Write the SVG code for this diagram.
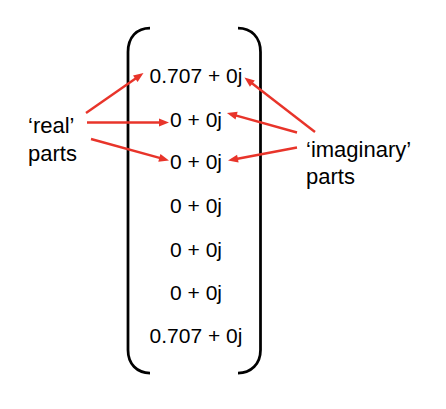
<svg xmlns="http://www.w3.org/2000/svg" width="446" height="409" viewBox="0 0 446 409">
<defs>
<style>
.t{font-family:"Liberation Sans",Arial,sans-serif;font-size:21px;fill:#000}
.l{font-size:22px}
.m{text-anchor:middle}
.br{fill:none;stroke:#000;stroke-width:2.75;stroke-linecap:butt}
.ar{fill:none;stroke:#E8342A;stroke-width:2.4}
</style>
<marker id="ah" markerUnits="userSpaceOnUse" markerWidth="10" markerHeight="8" refX="3" refY="4" orient="auto" overflow="visible">
<path d="M0,0 L10,4 L0,8 z" fill="#E8342A"/>
</marker>
</defs>
<rect width="446" height="409" fill="#fff"/>
<g id="matrix">
<path class="br" d="M150,28 C137,28 128,37 128,52 L128,350 C128,364 137,373 150,373"/>
<path class="br" d="M238,28 C251,28 260.5,37 260.5,52 L260.5,350 C260.5,364 251,373 238,373"/>
<text class="t m" x="196" y="83">0.707 + 0j</text>
<text class="t m" x="196" y="127">0 + 0j</text>
<text class="t m" x="196" y="169">0 + 0j</text>
<text class="t m" x="196" y="213">0 + 0j</text>
<text class="t m" x="196" y="257">0 + 0j</text>
<text class="t m" x="196" y="300">0 + 0j</text>
<text class="t m" x="196" y="343">0.707 + 0j</text>
</g>
<g id="real">
<text class="t l" x="28" y="133">‘real’</text>
<text class="t l" x="28" y="161">parts</text>
</g>
<g id="imaginary">
<text class="t l" x="306" y="157">‘imaginary’</text>
<text class="t l" x="306" y="184">parts</text>
</g>
<g id="connectors">
<line class="ar" x1="86" y1="113" x2="137.75" y2="77" marker-end="url(#ah)"/>
<line class="ar" x1="87" y1="122.5" x2="162" y2="122.5" marker-end="url(#ah)"/>
<line class="ar" x1="91" y1="139" x2="162.25" y2="158.64" marker-end="url(#ah)"/>
<line class="ar" x1="315" y1="132" x2="250" y2="81.8" marker-end="url(#ah)"/>
<line class="ar" x1="297" y1="132.5" x2="233.7" y2="114.9" marker-end="url(#ah)"/>
<line class="ar" x1="297" y1="147.5" x2="234.9" y2="159.2" marker-end="url(#ah)"/>
</g>
</svg>
